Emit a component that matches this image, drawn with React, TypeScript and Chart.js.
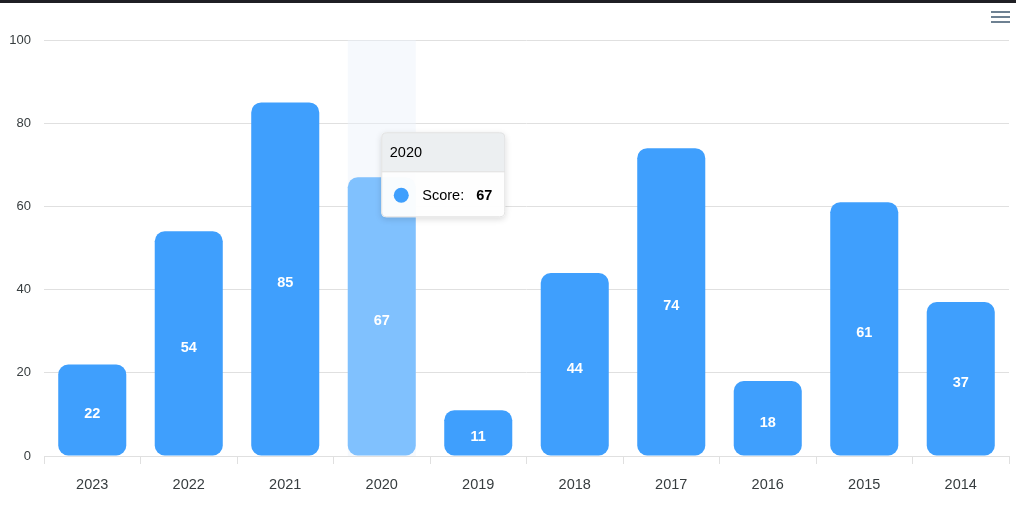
import React, { useEffect, useRef } from "react";
import { Chart, registerables } from "chart.js";

Chart.register(...registerables);

const categories = ["2023", "2022", "2021", "2020", "2019", "2018", "2017", "2016", "2015", "2014"];
const scores = [22, 54, 85, 67, 11, 44, 74, 18, 61, 37];
const seriesName = "Score";
const hoveredIndex = 3;
const yTicks = [0, 20, 40, 60, 80, 100];

const FONT = "Helvetica, Arial, 'Liberation Sans', sans-serif";
const BAR_SOLID = "#3f9ffd";
const BAR_HOVER = "#80c1fe";

function roundRect(ctx: CanvasRenderingContext2D, x: number, y: number, w: number, h: number, r: number) {
  ctx.beginPath();
  ctx.moveTo(x + r, y);
  ctx.lineTo(x + w - r, y);
  ctx.quadraticCurveTo(x + w, y, x + w, y + r);
  ctx.lineTo(x + w, y + h - r);
  ctx.quadraticCurveTo(x + w, y + h, x + w - r, y + h);
  ctx.lineTo(x + r, y + h);
  ctx.quadraticCurveTo(x, y + h, x, y + h - r);
  ctx.lineTo(x, y + r);
  ctx.quadraticCurveTo(x, y, x + r, y);
  ctx.closePath();
}

const hoverShade = {
  id: "hoverShade",
  beforeDatasetsDraw(chart: any) {
    const meta = chart.getDatasetMeta(0);
    const el = meta.data[hoveredIndex];
    if (!el) return;
    const { ctx, chartArea } = chart;
    const w = el.width;
    ctx.save();
    ctx.fillStyle = "rgba(235, 242, 250, 0.45)";
    ctx.fillRect(el.x - w / 2, chartArea.top, w, chartArea.bottom - chartArea.top);
    ctx.restore();
  },
};

const dataLabels = {
  id: "dataLabels",
  afterDatasetsDraw(chart: any) {
    const meta = chart.getDatasetMeta(0);
    const { ctx } = chart;
    ctx.save();
    ctx.fillStyle = "#ffffff";
    ctx.font = `bold 14.5px ${FONT}`;
    ctx.textAlign = "center";
    ctx.textBaseline = "middle";
    meta.data.forEach((el: any, i: number) => {
      const cy = (el.y + el.base) / 2 + 4.5;
      ctx.fillText(String(scores[i]), el.x, cy);
    });
    ctx.restore();
  },
};

const tooltipBox = {
  id: "tooltipBox",
  afterDraw(chart: any) {
    const meta = chart.getDatasetMeta(0);
    const el = meta.data[hoveredIndex];
    if (!el) return;
    const { ctx } = chart;
    const x = el.x - 0.5;
    const yScale = chart.scales.y;
    const y = yScale.getPixelForValue(scores[hoveredIndex]) - 45;
    const w = 124;
    const h = 85;
    const headerH = 39;
    ctx.save();
    ctx.shadowColor = "rgba(0,0,0,0.15)";
    ctx.shadowBlur = 6;
    ctx.shadowOffsetY = 2;
    roundRect(ctx, x, y, w, h, 5);
    ctx.fillStyle = "rgba(255,255,255,0.96)";
    ctx.fill();
    ctx.restore();

    ctx.save();
    roundRect(ctx, x, y, w, h, 5);
    ctx.clip();
    ctx.fillStyle = "#eceff1";
    ctx.fillRect(x, y, w, headerH);
    ctx.strokeStyle = "#dddddd";
    ctx.lineWidth = 1;
    ctx.beginPath();
    ctx.moveTo(x, y + headerH + 0.5);
    ctx.lineTo(x + w, y + headerH + 0.5);
    ctx.stroke();
    ctx.restore();

    ctx.save();
    roundRect(ctx, x + 0.5, y + 0.5, w - 1, h - 1, 5);
    ctx.strokeStyle = "#e3e3e3";
    ctx.lineWidth = 1;
    ctx.stroke();

    ctx.fillStyle = "#000000";
    ctx.font = `14.5px ${FONT}`;
    ctx.textBaseline = "middle";
    ctx.textAlign = "left";
    ctx.fillText(categories[hoveredIndex], x + 8.5, y + 20.5);

    ctx.fillStyle = BAR_SOLID;
    ctx.beginPath();
    ctx.arc(x + 20, y + 63, 7.5, 0, Math.PI * 2);
    ctx.fill();

    ctx.fillStyle = "#000000";
    ctx.font = `14.5px ${FONT}`;
    ctx.fillText(`${seriesName}:`, x + 41, y + 63.5);
    ctx.font = `bold 14.5px ${FONT}`;
    ctx.fillText(String(scores[hoveredIndex]), x + 95, y + 63.5);
    ctx.restore();
  },
};

export default function App() {
  const canvasRef = useRef<HTMLCanvasElement | null>(null);

  useEffect(() => {
    document.body.style.margin = "0";
    const canvas = canvasRef.current;
    if (!canvas) return;
    const chart = new Chart(canvas, {
      type: "bar",
      data: {
        labels: categories,
        datasets: [
          {
            label: seriesName,
            data: scores,
            backgroundColor: scores.map((_, i) => (i === hoveredIndex ? BAR_HOVER : BAR_SOLID)),
            borderRadius: 10,
            borderSkipped: false,
            barPercentage: 0.705,
            categoryPercentage: 1,
          },
        ],
      },
      options: {
        animation: false,
        responsive: false,
        maintainAspectRatio: false,
        events: [],
        layout: { padding: { top: 40, right: 7, bottom: 0, left: 0 } },
        plugins: {
          legend: { display: false },
          tooltip: { enabled: false },
        },
        scales: {
          x: {
            offset: true,
            grid: {
              display: true,
              drawOnChartArea: false,
              offset: true,
              tickLength: 8,
              color: "#e0e0e0",
            },
            border: { display: true, color: "#e0e0e0", width: 1 },
            ticks: {
              color: "#373d3f",
              font: { family: FONT, size: 14.5 },
              padding: 12,
              maxRotation: 0,
            },
            afterFit(scale: any) {
              scale.height = 49;
            },
          },
          y: {
            min: 0,
            max: 100,
            afterBuildTicks(scale: any) {
              scale.ticks = yTicks.map((v) => ({ value: v }));
            },
            grid: { color: "#e0e0e0", drawTicks: false },
            border: { display: false },
            ticks: {
              color: "#373d3f",
              font: { family: FONT, size: 13 },
              padding: 13,
            },
            afterFit(scale: any) {
              scale.width = 44;
            },
          },
        },
      },
      plugins: [hoverShade, dataLabels, tooltipBox],
    });
    return () => chart.destroy();
  }, []);

  return (
    <div style={{ position: "absolute", left: 0, top: 0, width: 1016, height: 505, background: "#ffffff" }}>
      <div style={{ position: "absolute", left: 0, top: 0, width: 1016, height: 3, background: "#1f1f24" }} />
      <canvas ref={canvasRef} width={1016} height={505} style={{ position: "absolute", left: 0, top: 0, width: 1016, height: 505 }} />
      <div style={{ position: "absolute", left: 991, top: 10, width: 19, height: 15 }}>
        {[0, 5, 10].map((t) => (
          <div key={t} style={{ position: "absolute", left: 0, top: t + 1, width: 19, height: 2, background: "#6e8192" }} />
        ))}
      </div>
    </div>
  );
}
